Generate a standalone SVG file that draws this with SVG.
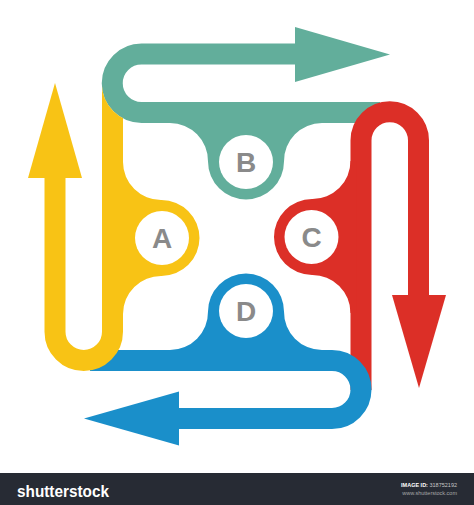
<svg xmlns="http://www.w3.org/2000/svg" width="474" height="505" viewBox="0 0 474 505">
<style>
.tube{fill:none;stroke-width:21}
.y{fill:#F8C315}.ys{stroke:#F8C315}
.t{fill:#62AE9B}.ts{stroke:#62AE9B}
.r{fill:#DC2F27}.rs{stroke:#DC2F27}
.b{fill:#1A8FCA}.bs{stroke:#1A8FCA}
.hole{fill:#FFFFFF}
.lbl{font-family:"Liberation Sans",Arial,sans-serif;font-weight:bold;font-size:28px;fill:#8A8A8A;text-anchor:middle}
</style>
<defs>
<path id="bump" d="M-76,-6 L-76,0 A38,38 0 0 1 -38,38.5 A38,38 0 1 0 38,38.5 A38,38 0 0 1 76,0 L76,-6 Z"/>
<clipPath id="notTeal"><path clip-rule="evenodd" d="M0,0H474V505H0Z M101.75,83.25a39.75,39.75 0 1,0 79.5,0a39.75,39.75 0 1,0 -79.5,0Z"/></clipPath>
</defs>
<rect width="474" height="505" fill="#FFFFFF"/>
<g id="connectors">
</g>
<g id="node-B">
<path class="tube ts" d="M380,112.5 H141.5 A29.25,29.25 0 0 1 141.5,54 H300"/>
<polygon class="t" points="295,27 390,54.5 295,82"/>
<use href="#bump" class="t" transform="translate(246,123)"/>
<circle class="hole" cx="246" cy="162" r="27"/>
<text class="lbl" x="246" y="172">B</text>
</g>
<g id="node-C">
<path class="tube rs" d="M361,390 V140.5 A28.75,28.75 0 0 1 418.5,140.5 V300"/>
<polygon class="r" points="392,295 446,295 419,388"/>
<use href="#bump" class="r" transform="translate(350.5,237) rotate(90)"/>
<circle class="hole" cx="311.5" cy="237" r="27"/>
<text class="lbl" x="311.5" y="247">C</text>
</g>
<g id="node-D">
<path class="tube bs" d="M90,360.5 H332 A29,29 0 0 1 332,418.5 H175"/>
<polygon class="b" points="179,391.5 84,418.5 179,445.5"/>
<use href="#bump" class="b" transform="translate(246,350) rotate(180)"/>
<circle class="hole" cx="246" cy="311" r="27"/>
<text class="lbl" x="246" y="321">D</text>
</g>
<g id="node-A" clip-path="url(#notTeal)">
<path class="tube ys" d="M112.5,85 V331.7 A28.75,28.75 0 0 1 55,331.7 V175"/>
<polygon class="y" points="55,83 82,178 28,178"/>
<use href="#bump" class="y" transform="translate(123,238) rotate(-90)"/>
<circle class="hole" cx="162" cy="238" r="27"/>
<text class="lbl" x="162" y="248">A</text>
</g>
<g id="footer">
<rect x="0" y="473" width="474" height="32" fill="#272B34"/>
<text x="17" y="496.5" font-family="'Liberation Sans',Arial,sans-serif" font-weight="bold" font-size="16" fill="#FFFFFF" textLength="92" lengthAdjust="spacingAndGlyphs">shutterstock</text>
<text x="457" y="487" font-family="'Liberation Sans',Arial,sans-serif" font-size="5.5" fill="#C8C8C8" text-anchor="end"><tspan font-weight="bold" fill="#FFFFFF">IMAGE ID: </tspan>318752192</text>
<text x="457" y="495" font-family="'Liberation Sans',Arial,sans-serif" font-size="5.5" fill="#A8A8A8" text-anchor="end">www.shutterstock.com</text>
</g>
</svg>
